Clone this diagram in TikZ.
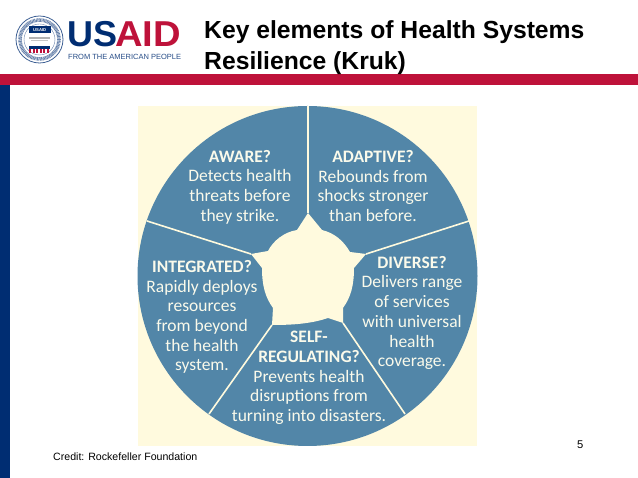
\documentclass[tikz,border=0pt]{standalone}
\usepackage{fontspec}
\setmainfont{Liberation Sans}
\newfontfamily\wheelfont{Carlito}
\definecolor{usred}{RGB}{190,18,58}
\definecolor{usblue}{RGB}{0,45,114}
\definecolor{wheelblue}{RGB}{82,134,168}
\definecolor{cream}{RGB}{255,250,222}
\definecolor{wheeltext}{RGB}{250,250,235}
\tikzset{
  x=1pt,y=-1pt,
  wheeltxt/.style={font=\wheelfont\fontsize{17.5}{19.7}\selectfont,text=wheeltext,align=center,inner sep=0pt},
  spoke/.style={draw=cream,line width=1.6pt},
  titletxt/.style={font=\bfseries\fontsize{24.7}{32}\selectfont,anchor=base west,inner sep=0pt,text=black},
}
\begin{document}
\begin{tikzpicture}
\useasboundingbox (0,0) rectangle (638,478);
\fill[white] (0,0) rectangle (638,478);
% bars
\fill[usred] (0,74) rectangle (638,85);
\fill[usblue] (0,85) rectangle (10,478);
% wheel
\fill[cream] (138,106) rectangle (477,446);
\fill[wheelblue] (307.5,276) circle[radius=170];
\coordinate (hT) at (308,213);
\coordinate (hR) at (366,254);
\coordinate (hB1) at (343,323);
\coordinate (hB2) at (272,325);
\coordinate (hL) at (251,254);
\fill[cream] (hT) -- (322,230) .. controls (334,233) and (343,240) .. (350,252) -- (hR)
  -- (354,268) .. controls (354,285) and (351,297) .. (343,308) -- (hB1)
  -- (328,318) .. controls (313,323) and (297,325) .. (hB2)
  -- (273,308) .. controls (265,297) and (262,285) .. (262,268) -- (hL)
  -- (268,251) .. controls (273,241) and (284,232) .. (297,230) -- cycle;
\coordinate (eT) at (308,106);
\coordinate (eR) at (469,221);
\coordinate (eBR) at (405,414);
\coordinate (eBL) at (209,414);
\coordinate (eL) at (147,221);
\draw[spoke] (hT) -- (eT);
\draw[spoke] (hR) -- (eR);
\draw[spoke] (hB1) -- (eBR);
\draw[spoke] (hB2) -- (eBL);
\draw[spoke] (hL) -- (eL);
\node[wheeltxt] (aware) at (240,187) {\textbf{AWARE?}\\Detects health\\threats before\\they strike.};
\node[wheeltxt] (adaptive) at (373,186) {\textbf{ADAPTIVE?}\\Rebounds from\\shocks stronger\\than before.};
\node[wheeltxt] (diverse) at (412,313) {\textbf{DIVERSE?}\\Delivers range\\of services\\with universal\\health\\coverage.};
\node[wheeltxt] (integrated) at (202,317) {\textbf{INTEGRATED?}\\Rapidly deploys\\resources\\from beyond\\the health\\system.};
\node[wheeltxt] (selfreg) at (309,378) {\textbf{SELF-}\\\textbf{REGULATING?}\\Prevents health\\disruptions from\\turning into disasters.};
% header
\node[titletxt] (title1) at (204,39) {Key elements of Health Systems};
\node[titletxt] (title2) at (204,70) {Resilience (Kruk)};
% logo
\node[font=\bfseries\fontsize{36}{36}\selectfont,anchor=base west,inner sep=0pt,text=usblue] (us) at (67,47) {US};
\node[font=\bfseries\fontsize{36}{36}\selectfont,anchor=base west,inner sep=0pt,text=usred,xscale=1.06] (aid) at (115,47) {AID};
\node[font=\fontsize{7.5}{8}\selectfont,anchor=base west,inner sep=0pt,text=usblue!85] (tagline) at (68,59.5) {FROM THE AMERICAN PEOPLE};
\fill[white,draw=usblue!75,line width=0.8pt] (39.5,39.5) circle[radius=23.5];
\draw[usblue!60,line width=0.4pt] (39.5,39.5) circle[radius=15.5];
\draw[usblue!60,line width=3.6pt,dash pattern=on 0.8pt off 0.6pt] (39.5,39.5) circle[radius=19.5];
\fill[usblue] (29,26.5) rectangle (50.5,33.5);
\node[font=\bfseries\fontsize{4.2}{4}\selectfont,text=white,inner sep=0pt] (sealusaid) at (39.7,30) {USAID};
\fill[gray!60] (29,37.5) rectangle (50,38.7);
\fill[gray!45] (31,40) rectangle (48,41.2);
\fill[usblue] (29,46) rectangle (50,49);
\foreach \sx in {29,32.5,...,47}{\fill[usred] (\sx,49.5) rectangle ++(2,4);}
% footer
\node[font=\fontsize{10.6}{12}\selectfont,anchor=base west,inner sep=0pt] (credit) at (53,461) {Credit: Rockefeller Foundation};
\node[font=\fontsize{11.2}{12}\selectfont,anchor=base west,inner sep=0pt] (pagenum) at (577,449) {5};
\end{tikzpicture}
\end{document}
